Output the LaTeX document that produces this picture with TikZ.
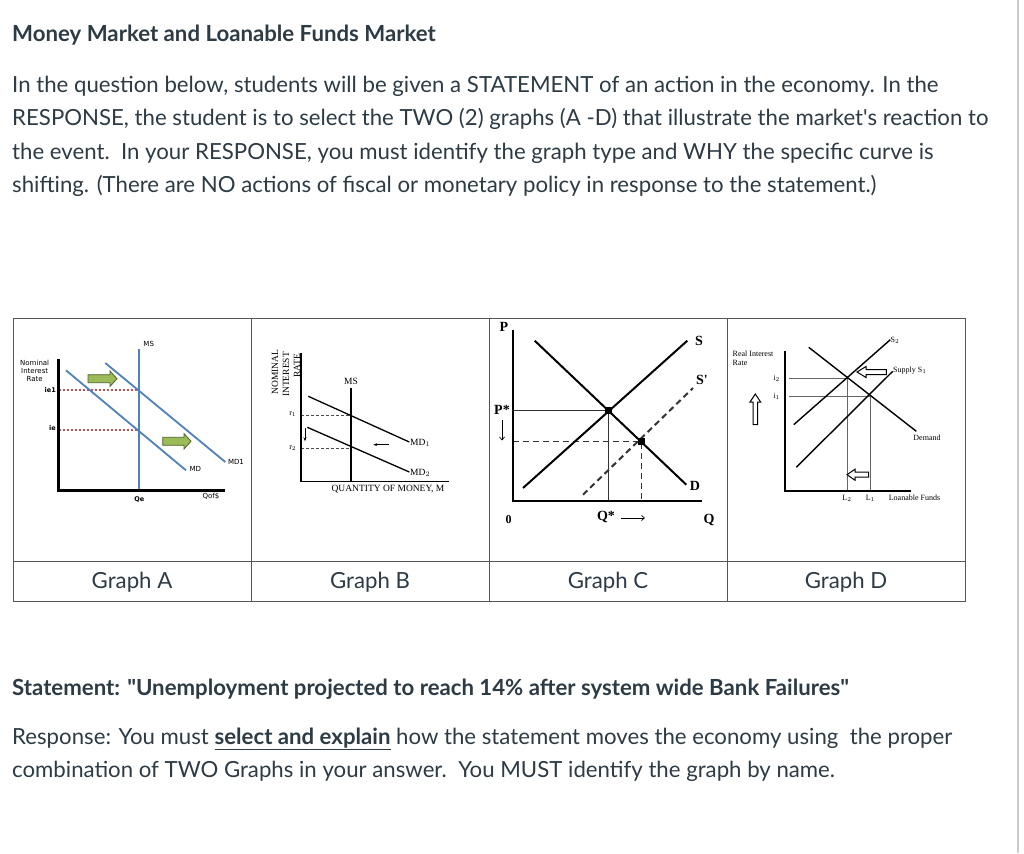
\documentclass[tikz,border=0pt]{standalone}
\usepackage{fontspec}
\setmainfont{Lato}[Ligatures=TeXOff]
\newfontfamily\tnr{Liberation Serif}
\newfontfamily\handf{DejaVu Sans}
\usetikzlibrary{arrows.meta}
\definecolor{txt}{HTML}{2D3B45}
\definecolor{tline}{HTML}{555555}
\definecolor{mblue}{HTML}{4F81BD}
\definecolor{mred}{HTML}{C0504D}
\definecolor{mgreen}{HTML}{9BBB59}
\definecolor{mgreend}{HTML}{4F6228}
\tikzset{
  bodytext/.style={anchor=base west, inner sep=0pt, text=txt, font=\fontsize{22.2}{26}\selectfont},
  boldtext/.style={bodytext, font=\fontsize{22.2}{26}\selectfont\bfseries},
  captext/.style={inner sep=0pt, text=txt, font=\fontsize{22.2}{26}\selectfont},
  tbl/.style={draw=tline, line width=1pt},
  axA/.style={line width=2.6pt, black},
  blueln/.style={line width=1.8pt, mblue},
  reddot/.style={line width=2pt, mred, dash pattern=on 2pt off 2pt},
  garrow/.style={fill=mgreen, draw=mgreend, line width=0.8pt},
  labA/.style={inner sep=0pt, font=\handf\fontsize{7}{8}\selectfont},
  labAb/.style={inner sep=0pt, font=\handf\bfseries\fontsize{6.5}{7}\selectfont},
  axB/.style={line width=1.3pt, black},
  lnB/.style={line width=1.3pt, black},
  dashB/.style={line width=0.8pt, black!70, dash pattern=on 3pt off 2pt},
  labB/.style={inner sep=0pt, font=\tnr\fontsize{9.5}{10}\selectfont},
  labBs/.style={inner sep=0pt, font=\tnr\fontsize{8}{8}\selectfont},
  labBr/.style={inner sep=0pt, font=\tnr\fontsize{9.5}{10}\selectfont},
  axC/.style={line width=2pt, black},
  lnC/.style={line width=2pt, black},
  thinC/.style={line width=0.8pt, black!80},
  dashC/.style={line width=1pt, black!80, dash pattern=on 6pt off 4pt},
  labC/.style={inner sep=0pt, font=\tnr\bfseries\fontsize{14}{15}\selectfont},
  axD/.style={line width=1.8pt, black},
  lnD/.style={line width=1.4pt, black},
  thinD/.style={line width=0.7pt, black!60},
  labD/.style={inner sep=0pt, font=\tnr\fontsize{8}{8.5}\selectfont},
  harrow/.style={draw=black, line width=1pt, fill=white},
}
\begin{document}
\begin{tikzpicture}[x=1pt,y=-1pt]
\useasboundingbox (0,0) rectangle (1024,853);
\fill[white] (0,0) rectangle (1024,853);
\draw[black!20, line width=1.5pt] (1018,0) -- (1018,853);

% ---------- header text ----------
\node[boldtext] (title) at (12,42) {Money Market and Loanable Funds Market};
\node[bodytext] (p1) at (12,93) {In the question below, students will be given a STATEMENT of an action in the economy. In the};
\node[bodytext] (p2) at (12,126) {RESPONSE, the student is to select the TWO (2) graphs (A -D) that illustrate the market's reaction to};
\node[bodytext] (p3) at (12,159.5) {the event.\ \ In your RESPONSE, you must identify the graph type and WHY the specific curve is};
\node[bodytext] (p4) at (12,193) {shifting. (There are NO actions of fiscal or monetary policy in response to the statement.)};

% ---------- table ----------
\draw[tbl] (13,318) rectangle (965,601);
\draw[tbl] (13,561) -- (965,561);
\foreach \xx in {251,489,727} \draw[tbl] (\xx,318) -- (\xx,601);
\node[captext] (ga) at (132,582) {Graph A};
\node[captext] (gb) at (370,582) {Graph B};
\node[captext] (gc) at (608,582) {Graph C};
\node[captext] (gd) at (846,582) {Graph D};

% ---------- Graph A ----------
\draw[reddot] (59,390) -- (139,390);
\draw[reddot] (59,430.3) -- (139,430.3);
\draw[blueln] (66,370.3) -- (186,470.3);
\draw[blueln] (105.3,363) -- (225.3,462);
\draw[blueln] (139.3,348.7) -- (139.3,490.7);
\draw[axA] (58.7,358.7) -- (58.7,490.7) -- (225,490.7);
\draw[garrow] (88,374.7) -- (110,374.7) -- (110,371) -- (117,378.7) -- (110,386.4) -- (110,382.7) -- (88,382.7) -- cycle;
\draw[garrow] (162.7,437.3) -- (184,437.3) -- (184,433.6) -- (191,441.3) -- (184,449) -- (184,445.3) -- (162.7,445.3) -- cycle;
\node[labA] (ams) at (148.7,344) {MS};
\node[labA] (amd) at (195.3,469) {MD};
\node[labA] (amd1) at (236,462) {MD1};
\node[labA, align=center] (ayl) at (34.7,371) {Nominal\\Interest\\Rate};
\node[labAb, anchor=east] (aie1) at (56,390) {ie1};
\node[labAb, anchor=east] (aie) at (56,428) {ie};
\node[labAb] (aqe) at (139.3,500) {Qe};
\node[labA] (aqof) at (211,496.3) {Qof\$};

% ---------- Graph B ----------
\draw[dashB] (301,415.7) -- (351,415.7);
\draw[dashB] (301,448) -- (351,448);
\draw[lnB] (308.3,396.3) -- (409.3,442);
\draw[lnB] (307.3,427.3) -- (409.3,472);
\draw[lnB] (351,388) -- (351,481.3);
\draw[axB] (301,353) -- (301,481.3) -- (449,481.3);
\draw[line width=0.8pt, -{Stealth[length=4pt,width=3pt]}] (305,428) -- (305,441.3);
\draw[line width=0.8pt, -{Stealth[length=4pt,width=3pt]}] (389.3,444.7) -- (373.3,444.7);
\node[labBr, rotate=90] (bn) at (275,372) {NOMINAL};
\node[labBr, rotate=90] (bi) at (286,374.5) {INTEREST};
\node[labBr, rotate=90] (br) at (297,365.5) {RATE};
\node[labB] (bms) at (351,381) {MS};
\node[labB, anchor=west] (bmd1) at (410,443) {MD$_1$};
\node[labB, anchor=west] (bmd2) at (410,473) {MD$_2$};
\node[labBs] (br1) at (292.7,414) {r$_1$};
\node[labBs] (br2) at (292.7,448) {r$_2$};
\node[labBr] (bq) at (388,489) {QUANTITY OF MONEY, M};

% ---------- Graph C ----------
\draw[thinC] (513,410.3) -- (608,410.3) -- (608,501.3);
\draw[dashC] (513,441.3) -- (641.3,441.3) -- (641.3,501.3);
\draw[lnC] (534.7,340.7) -- (686.3,484.7);
\draw[lnC] (523,488) -- (687.3,340.7);
\draw[dashC, line width=2pt] (583,494.7) -- (693,388);
\draw[axC] (513,329.7) -- (513,501.3) -- (702,501.3);
\fill[black] (604.5,406.8) rectangle (611.5,413.8);
\fill[black] (637.8,437.8) rectangle (644.8,444.8);
\node[labC] (cp) at (504,327) {P};
\node[labC, font=\tnr\bfseries\fontsize{12}{13}\selectfont] (c0) at (508.7,519.7) {0};
\node[labC] (cq) at (709,519.7) {Q};
\node[labC] (cs) at (699,340.7) {S};
\node[labC] (cs2) at (702,380) {S'};
\node[labC] (cd) at (695,486.3) {D};
\node[labC] (cps) at (502,409.5) {P*};
\node[labC] (cqs) at (606,517) {Q*};
\draw[line width=0.7pt, -{Straight Barb[length=3pt,width=5pt]}] (502,419.7) -- (502,440.5);
\draw[line width=0.7pt, -{Straight Barb[length=3pt,width=5pt]}] (621.3,518) -- (645,518);

% ---------- Graph D ----------
\draw[thinD] (788.7,378) -- (847,378) -- (847,491.3);
\draw[thinD] (788.7,396.3) -- (870.3,396.3) -- (870.3,491.3);
\draw[lnD] (793.7,424.7) -- (890.3,339.7);
\draw[lnD] (796.3,467.3) -- (892.7,371.3);
\draw[lnD] (808.7,347.3) -- (916.3,431.3);
\draw[axD] (784.7,351.3) -- (784.7,491.3) -- (911,491.3);
\draw[harrow] (886.3,369.5) -- (866,369.5) -- (866,366.5) -- (857,372) -- (866,377.5) -- (866,374.5) -- (886.3,374.5) -- cycle;
\draw[harrow] (868.7,472.2) -- (855,472.2) -- (855,469.2) -- (847,474.7) -- (855,480.2) -- (855,477.2) -- (868.7,477.2) -- cycle;
\draw[harrow] (753,424.7) -- (753,402) -- (750,402) -- (755.3,394) -- (760.6,402) -- (757.6,402) -- (757.6,424.7) -- cycle;
\node[labD, anchor=west, align=left] (dyl) at (732.5,358.5) {Real Interest\\Rate};
\node[labD, anchor=west] (ds2) at (890.5,340.7) {S$_2$};
\node[labD, anchor=west] (ds1) at (893,370.5) {Supply S$_1$};
\node[labD] (ddem) at (927,437.3) {Demand};
\node[labD] (di2) at (776.5,378) {i$_2$};
\node[labD] (di1) at (776.5,396.3) {i$_1$};
\node[labD] (dl2) at (847,498) {L$_2$};
\node[labD] (dl1) at (870.3,498) {L$_1$};
\node[labD] (dlf) at (914.5,498) {Loanable Funds};

% ---------- statement ----------
\node[boldtext] (st) at (12,695) {Statement: "Unemployment projected to reach 14\% after system wide Bank Failures"};
\node[bodytext] (r1) at (12,744) {Response: You must \underline{\textbf{select and explain}} how the statement moves the economy using\ \ the proper};
\node[bodytext] (r2) at (12,777) {combination of TWO Graphs in your answer.\ \ You MUST identify the graph by name.};
\end{tikzpicture}
\end{document}
